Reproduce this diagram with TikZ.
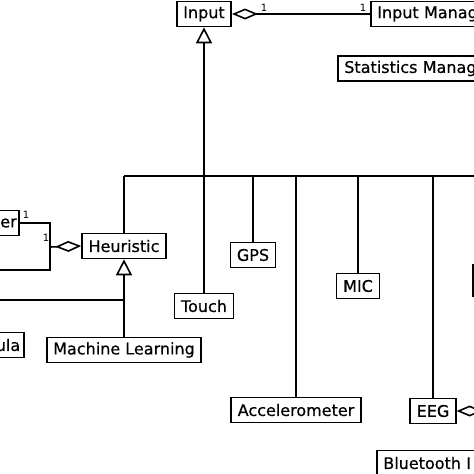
\documentclass[tikz,border=0pt]{standalone}
\usepackage{fontspec}
\setmainfont{DejaVu Sans}
\newfontfamily\umlfont{DejaVu Sans}[FakeBold=0.5]
\usetikzlibrary{arrows.meta,positioning}

\begin{document}
\begin{tikzpicture}[x=1pt, y=-1pt,
    cls/.style={rectangle, draw=black, line width=1.6pt, fill=white, minimum height=25pt,
      inner xsep=6.5pt, font=\umlfont\fontsize{16}{19}\selectfont},
    link/.style={line width=1.6pt},
    agg/.style={link, {Diamond[open, length=26pt, width=11pt]}-},
    gen/.style={link, -{Triangle[open, length=16pt, width=16pt]}},
    mult/.style={font=\fontsize{10}{12}\selectfont, inner sep=1pt}
  ]
    \useasboundingbox (0,0) rectangle (474,474);
    \clip (0,0) rectangle (474,474);
    % Input and its manager
    \node[cls] (input) at (204,14) {Input};
    \node[cls, anchor=west, text width=120pt, align=left] (inmgr) at (370,14) {Input Manag};
    \node[cls, anchor=west, text width=150pt, align=left] (statmgr) at (337,68.5) {Statistics Manag};
    \draw[agg] (input.east) -- (inmgr.west);
    \node[mult] (m1) at (264,8) {1};
    \node[mult] (m2) at (363,8) {1};
    % Bus of input sources
    \coordinate (bus) at (204,176);
    \coordinate (busL) at (124,176);
    \coordinate (busR) at (474,176);
    \draw[gen] (bus) -- (input.south);
    \draw[link] (busL) -- (busR);
    % Heuristic
    \node[cls] (heur) at (124,246) {Heuristic};
    \node[cls, anchor=east, text width=40pt, align=right, inner xsep=2.5pt] (hmgr) at (20,223) {er};
    \coordinate (hj) at (50,247);
    \coordinate (hl) at (0,270);
    \draw[agg] (heur.west) -- (hj);
    \draw[link] (hmgr.east) -| (hj);
    \draw[link] (hl) -| (hj);
    \node[mult] (m3) at (26,215) {1};
    \node[mult] (m4) at (46,238) {1};
    % Heuristic subclasses
    \node[cls] (ml) at (124,350) {Machine Learning};
    \node[cls, anchor=east, text width=40pt, align=right, inner xsep=4pt] (formula) at (25,345) {ula};
    \coordinate (mlL) at (0,300);
    \draw[gen] (ml.north) -- (heur.south);
    \draw[link] (mlL) -- (mlL -| heur.south);
    % Sensors
    \node[cls] (touch) at (204,306) {Touch};
    \node[cls] (gps) at (253,255) {GPS};
    \node[cls] (mic) at (358,286) {MIC};
    \node[cls] (accel) at (296,410) {Accelerometer};
    \node[cls] (eeg) at (433,411) {EEG};
    \node[cls, anchor=west, minimum width=40pt, minimum height=31pt] (rbox) at (472,280.5) {};
    \foreach \n in {heur,touch,gps,mic,accel,eeg}
      \draw[link] (\n.north) -- (\n.north |- bus);
    % EEG link
    \coordinate (eegR) at (474,411);
    \draw[agg] (eeg.east) -- (eegR);
    \node[cls, anchor=west, text width=110pt, align=left] (bt) at (376,463) {Bluetooth I};
\end{tikzpicture}
\end{document}
